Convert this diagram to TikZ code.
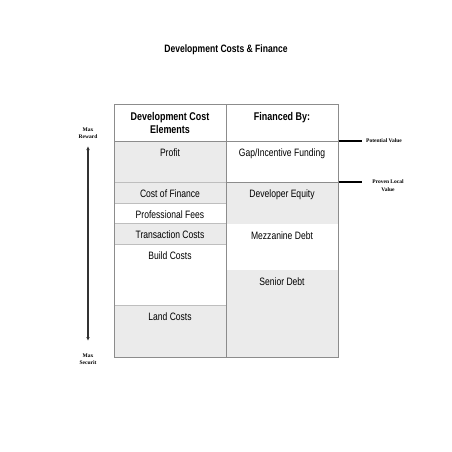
\documentclass[tikz,border=0pt]{standalone}
\usepackage{fontspec}
\newfontfamily\narrowsans[FakeStretch=0.8]{Liberation Sans}
\newfontfamily\tinyserif{Liberation Serif}
\usepackage{tikz}
\usetikzlibrary{arrows.meta,positioning,calc}
\usepackage{xcolor}
\definecolor{cellgray}{RGB}{235,235,235}
\definecolor{cellline}{RGB}{190,190,190}
\definecolor{frameline}{RGB}{140,140,140}
\definecolor{arrowgray}{RGB}{50,50,50}

\begin{document}
\begin{tikzpicture}[x=1pt, y=-1pt,
    cell/.style={rectangle, draw=cellline, fill=cellgray, line width=0.6pt,
                 minimum width=112pt, inner sep=0pt, outer sep=0pt, anchor=north west},
    blank/.style={cell, fill=white},
    fin/.style={rectangle, draw=none, fill=cellgray, minimum width=112pt,
                inner sep=0pt, outer sep=0pt, anchor=north west},
    hdr/.style={rectangle, draw=frameline, fill=white, line width=0.7pt, minimum width=112pt,
                minimum height=37pt, inner sep=0pt, outer sep=0pt, anchor=north west},
    txt/.style={font=\narrowsans\fontsize{10.7}{12}\selectfont, anchor=base, inner sep=0pt},
    head/.style={font=\narrowsans\bfseries\fontsize{11.2}{13}\selectfont, align=center, inner sep=0pt},
    note/.style={font=\tinyserif\bfseries\fontsize{5.5}{7.5}\selectfont, align=center, inner sep=0pt},
    valline/.style={line width=1.3pt, black},
    frame/.style={draw=frameline, line width=0.7pt}
]
    \useasboundingbox (0,0) rectangle (452,452);

    % title
    \node[head, font=\narrowsans\bfseries\fontsize{10.7}{12}\selectfont] (title) at (226,50) {Development Costs \& Finance};

    % cost elements
    \node[cell, minimum height=41pt] (profit) at (114,141) {};
    \node[cell, minimum height=21pt] (finance) at (114,182) {};
    \node[blank, minimum height=20pt] (fees) at (114,203) {};
    \node[cell, minimum height=21pt] (trans) at (114,223) {};
    \node[blank, minimum height=61pt] (build) at (114,244) {};
    \node[cell, minimum height=52pt] (land) at (114,305) {};

    % financing
    \node[fin, fill=white, minimum height=41pt] (gap) at (226,141) {};
    \node[fin, minimum height=42pt] (equity) at (226,182) {};
    \node[fin, fill=white, minimum height=46pt] (mezz) at (226,224) {};
    \node[fin, minimum height=87pt] (senior) at (226,270) {};

    % headers
    \node[hdr] (hdrL) at (114,104) {};
    \node[hdr] (hdrR) at (226,104) {};
    \node[head] at (hdrL.center) {Development Cost\\Elements};
    \node[head] at ([yshift=4.5pt]hdrR.center) {Financed By:};

    \foreach \c/\t in {profit/Profit, finance/Cost of Finance, fees/Professional Fees,
                       trans/Transaction Costs, build/Build Costs, land/Land Costs,
                       gap/Gap\slash Incentive Funding, equity/Developer Equity,
                       mezz/Mezzanine Debt, senior/Senior Debt}
        \node[txt] at ([yshift=-15pt]\c.north) {\t};

    \draw[frame] (hdrL.north west) rectangle (senior.south east);
    \draw[frame] (hdrR.north west) -- (senior.south west);
    \draw[frame] (equity.north west) -- (equity.north east);

    % value markers
    \node[note, anchor=west] (potval) at (366,141) {Potential Value};
    \node[note] (provval) at (388,185.5) {Proven Local\\Value};
    \coordinate (potend) at (362,141);
    \coordinate (provend) at (362,182);
    \draw[valline] (hdrR.south east) ++(1,0) -- (potend);
    \draw[valline] (equity.north east) ++(1,0) -- (provend);

    % reward / security axis
    \node[note] (maxrwd) at (88,133) {Max\\Reward};
    \node[note] (maxsec) at (88,359) {Max\\Securit};
    \coordinate (axtop) at (88,146);
    \coordinate (axbot) at (88,341);
    \draw[arrowgray, line width=1.2pt, {Latex[length=4pt,width=3.5pt]}-{Latex[length=4pt,width=3.5pt]}] (axtop) -- (axbot);
\end{tikzpicture}
\end{document}
